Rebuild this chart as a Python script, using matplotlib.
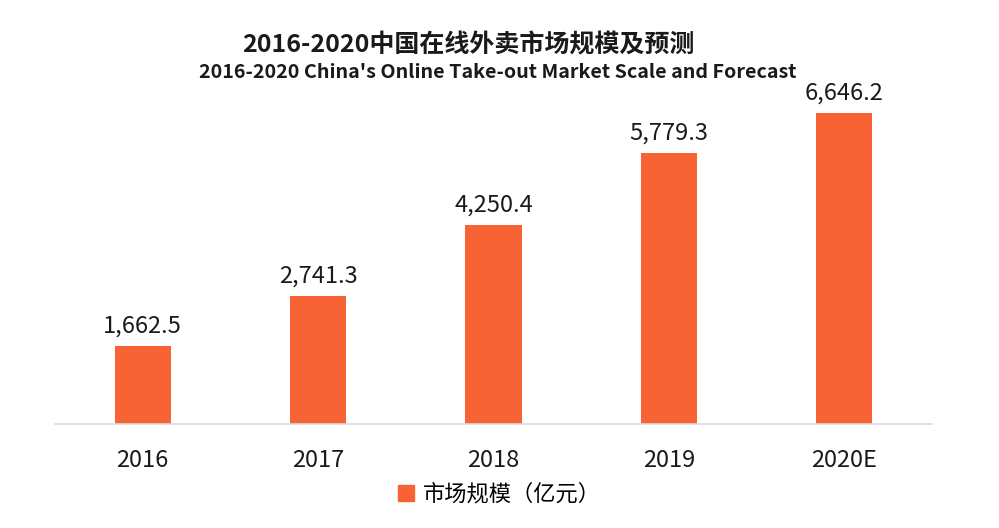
import matplotlib.pyplot as plt
from matplotlib.patches import Patch

plt.rcParams['font.family'] = ['Noto Sans CJK SC', 'DejaVu Sans']

years = ['2016', '2017', '2018', '2019', '2020E']
scale = [1662.5, 2741.3, 4250.4, 5779.3, 6646.2]
bar_color = '#F76334'

fig = plt.figure(figsize=(9.99, 5.28), dpi=100)
ax = fig.add_axes([55 / 999, (528 - 424) / 528, 877 / 999, 328 / 528])

bars = ax.bar(range(len(years)), scale, width=0.32, color=bar_color)
for b, v in zip(bars, scale):
    ax.text(b.get_x() + b.get_width() / 2, v + 180, f'{v:,.1f}',
            ha='center', va='bottom', fontsize=17, color='#1a1a1a')

ax.set_xlim(-0.5, len(years) - 0.5)
ax.set_ylim(0, 7000)
ax.set_xticks(range(len(years)))
ax.set_xticklabels(years, fontsize=17, color='#1a1a1a')
ax.tick_params(axis='x', length=0, pad=18)
ax.set_yticks([])
for s in ['top', 'right', 'left']:
    ax.spines[s].set_visible(False)
ax.spines['bottom'].set_color('#d9d9d9')
ax.spines['bottom'].set_linewidth(1.2)

# 标题
fig.text(468 / 999, 1 - 45 / 528, '2016-2020中国在线外卖市场规模及预测',
         ha='center', va='center', fontsize=18, fontweight='bold', color='#1a1a1a')
fig.text(498 / 999, 1 - 73 / 528, "2016-2020 China's Online Take-out Market Scale and Forecast",
         ha='center', va='center', fontsize=14.2, fontweight='bold', color='#1a1a1a')

fig.legend(handles=[Patch(color=bar_color, label='市场规模（亿元）')],
           loc='center', bbox_to_anchor=(0.5, 1 - 494 / 528), frameon=False,
           fontsize=16, handlelength=0.7, handleheight=0.7, handletextpad=0.4)

fig.savefig('out.png', dpi=100)
